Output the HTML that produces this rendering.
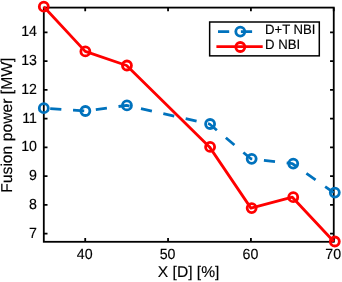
<!DOCTYPE html>
<html><head><meta charset="utf-8"><style>
html,body{margin:0;padding:0;background:#fff;width:342px;height:282px;overflow:hidden}
svg{display:block}
text{text-rendering:geometricPrecision;font-family:"Liberation Sans",Arial,Helvetica,sans-serif;fill:#000;stroke:#000;stroke-width:0.15px}
</style></head><body>
<svg width="342" height="282" viewBox="0 0 342 282">
<rect width="342" height="282" fill="#fff"/>
<path d="M85.22 241.80V238.10M85.22 7.60V11.30M168.06 241.80V238.10M168.06 7.60V11.30M250.91 241.80V238.10M250.91 7.60V11.30M333.75 241.80V238.10M333.75 7.60V11.30M43.80 233.70H47.50M333.75 233.70H330.05M43.80 204.94H47.50M333.75 204.94H330.05M43.80 176.19H47.50M333.75 176.19H330.05M43.80 147.43H47.50M333.75 147.43H330.05M43.80 118.67H47.50M333.75 118.67H330.05M43.80 89.91H47.50M333.75 89.91H330.05M43.80 61.16H47.50M333.75 61.16H330.05M43.80 32.40H47.50M333.75 32.40H330.05" stroke="#000" stroke-width="1.8" fill="none"/>
<rect x="43.8" y="7.6" width="289.95" height="234.20" fill="none" stroke="#000" stroke-width="1.8"/>
<polyline points="43.80,108.20 85.22,111.00 126.64,105.40 209.49,124.00 250.91,158.80 292.33,163.60 333.75,192.60" fill="none" stroke="#0072BD" stroke-width="2.8" stroke-dasharray="11.2 11.7" stroke-dashoffset="16.5" stroke-linejoin="round"/>
<circle cx="43.80" cy="108.20" r="4.5" fill="none" stroke="#0072BD" stroke-width="2.8"/>
<circle cx="85.37" cy="111.00" r="4.5" fill="none" stroke="#0072BD" stroke-width="2.8"/>
<circle cx="126.94" cy="105.40" r="4.5" fill="none" stroke="#0072BD" stroke-width="2.8"/>
<circle cx="210.09" cy="124.00" r="4.5" fill="none" stroke="#0072BD" stroke-width="2.8"/>
<circle cx="251.66" cy="158.80" r="4.5" fill="none" stroke="#0072BD" stroke-width="2.8"/>
<circle cx="293.23" cy="163.60" r="4.5" fill="none" stroke="#0072BD" stroke-width="2.8"/>
<circle cx="334.80" cy="192.60" r="4.5" fill="none" stroke="#0072BD" stroke-width="2.8"/>
<polyline points="43.80,6.70 85.22,51.40 126.64,65.50 209.49,146.90 250.91,208.10 292.33,197.20 333.75,241.50" fill="none" stroke="#FF0000" stroke-width="2.8" stroke-linejoin="round"/>
<circle cx="43.80" cy="6.70" r="4.5" fill="none" stroke="#FF0000" stroke-width="2.8"/>
<circle cx="85.37" cy="51.40" r="4.5" fill="none" stroke="#FF0000" stroke-width="2.8"/>
<circle cx="126.94" cy="65.50" r="4.5" fill="none" stroke="#FF0000" stroke-width="2.8"/>
<circle cx="210.09" cy="146.90" r="4.5" fill="none" stroke="#FF0000" stroke-width="2.8"/>
<circle cx="251.66" cy="208.10" r="4.5" fill="none" stroke="#FF0000" stroke-width="2.8"/>
<circle cx="293.23" cy="197.20" r="4.5" fill="none" stroke="#FF0000" stroke-width="2.8"/>
<circle cx="334.80" cy="241.50" r="4.5" fill="none" stroke="#FF0000" stroke-width="2.8"/>
<text transform="translate(84.72 259.10) scale(1 1.03)" font-size="14.2" text-anchor="middle">40</text>
<text transform="translate(167.56 259.10) scale(1 1.03)" font-size="14.2" text-anchor="middle">50</text>
<text transform="translate(250.41 259.10) scale(1 1.03)" font-size="14.2" text-anchor="middle">60</text>
<text transform="translate(333.25 259.10) scale(1 1.03)" font-size="14.2" text-anchor="middle">70</text>
<text transform="translate(37.00 237.70) scale(1 1.03)" font-size="14.2" text-anchor="end">7</text>
<text transform="translate(37.00 208.94) scale(1 1.03)" font-size="14.2" text-anchor="end">8</text>
<text transform="translate(37.00 180.19) scale(1 1.03)" font-size="14.2" text-anchor="end">9</text>
<text transform="translate(37.00 151.43) scale(1 1.03)" font-size="14.2" text-anchor="end">10</text>
<text transform="translate(37.00 122.67) scale(1 1.03)" font-size="14.2" text-anchor="end">11</text>
<text transform="translate(37.00 93.91) scale(1 1.03)" font-size="14.2" text-anchor="end">12</text>
<text transform="translate(37.00 65.16) scale(1 1.03)" font-size="14.2" text-anchor="end">13</text>
<text transform="translate(37.00 36.40) scale(1 1.03)" font-size="14.2" text-anchor="end">14</text>
<text transform="translate(188.60 277.10)" font-size="15.6" text-anchor="middle">X [D] [%]</text>
<text transform="translate(11.90 125.20) rotate(-90)" font-size="15.7" text-anchor="middle">Fusion power [MW]</text>
<rect x="209.65" y="22.0" width="109.65" height="33.85" fill="#fff" stroke="#000" stroke-width="1.5"/>
<line x1="216.4" y1="31.7" x2="262.7" y2="31.7" stroke="#0072BD" stroke-width="2.8" stroke-dasharray="11.2 11.7" stroke-dashoffset="-1.6"/>
<circle cx="240.3" cy="31.6" r="4.5" fill="none" stroke="#0072BD" stroke-width="2.8"/>
<line x1="216.4" y1="46.6" x2="262.7" y2="46.6" stroke="#FF0000" stroke-width="2.8"/>
<circle cx="240.3" cy="47.0" r="4.5" fill="none" stroke="#FF0000" stroke-width="2.8"/>
<text transform="translate(265.00 34.30) scale(1 1.03)" font-size="13.15">D+T NBI</text>
<text transform="translate(265.00 48.80) scale(1 1.03)" font-size="13.15">D NBI</text>
</svg>
</body></html>
